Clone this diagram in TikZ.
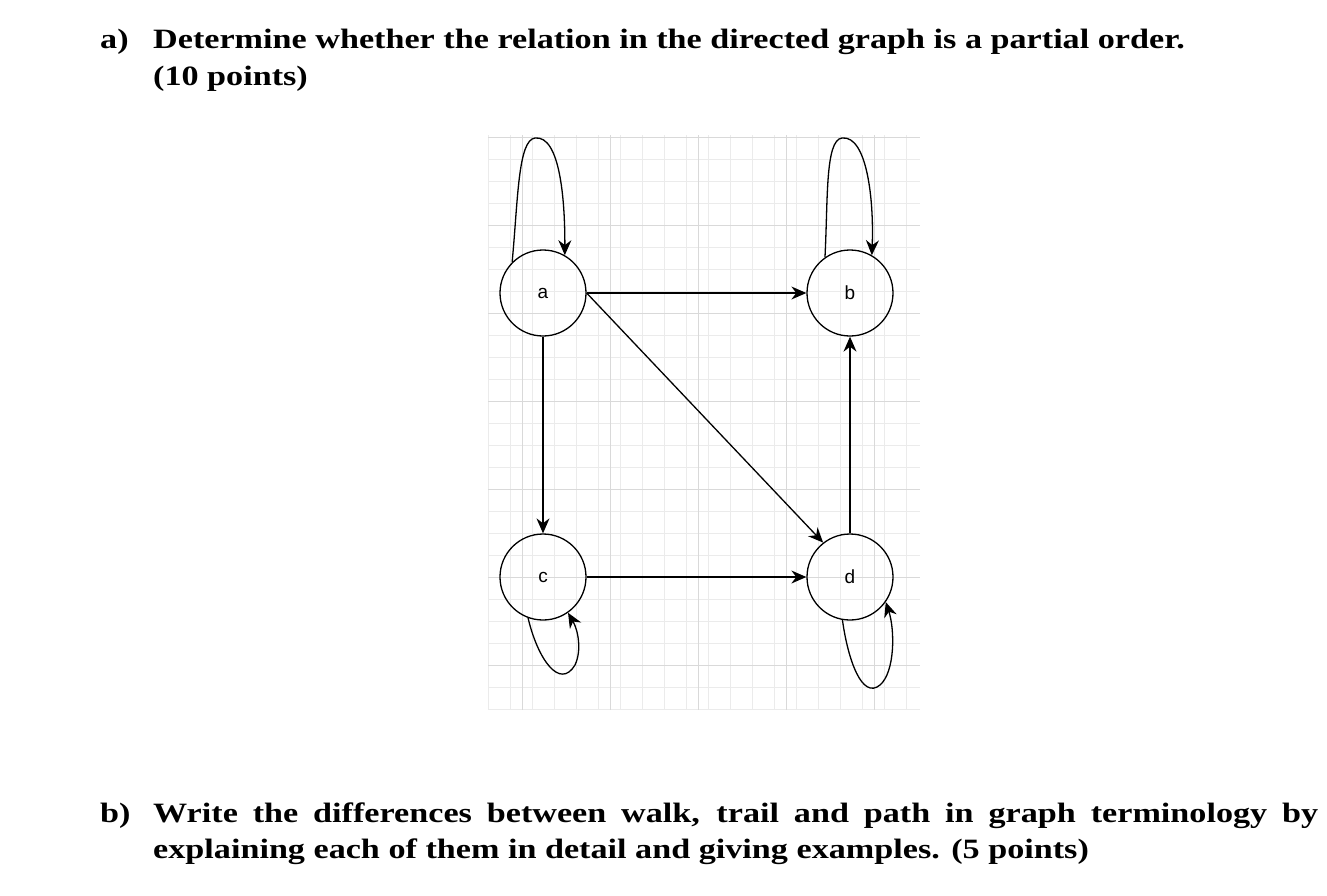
\documentclass[tikz,border=0pt]{standalone}
\usepackage{fontspec}
\setmainfont[FakeStretch=1.22]{Liberation Serif}
\newfontfamily\arialf{Liberation Sans}
\usetikzlibrary{arrows.meta}
\begin{document}
\begin{tikzpicture}[x=1pt,y=-1pt,
  vtx/.style={circle,draw,line width=1.3pt,minimum size=86pt,inner sep=0pt,font=\arialf\fontsize{19}{21}\selectfont},
  edge/.style={line width=1.3pt,-{Stealth[length=15pt,width=13pt]}},
  txt/.style={anchor=base west,inner sep=0pt,font=\bfseries\fontsize{28}{32}\selectfont}]
\useasboundingbox (0,0) rectangle (1327,895);
\fill[white] (0,0) rectangle (1327,895);
% grid
\foreach \x in {488,510,...,920} \draw[black!8,line width=0.8pt] (\x,135) -- (\x,710);
\foreach \y in {137,159,...,710} \draw[black!8,line width=0.8pt] (488,\y) -- (920,\y);
\foreach \x in {522,610,698,786,874} \draw[black!15,line width=1pt] (\x,135) -- (\x,710);
\foreach \y in {137,225,313,401,489,577,665} \draw[black!15,line width=1pt] (488,\y) -- (920,\y);
% nodes
\node[vtx] (a) at (543,293) {a};
\node[vtx] (b) at (850,293) {b};
\node[vtx] (c) at (543,577) {c};
\node[vtx] (d) at (850,577) {d};
\draw[edge] (a) -- (b);
\draw[edge] (a) -- (c);
\draw[edge] (a.east) -- (d.128);
\draw[edge] (c) -- (d);
\draw[edge] (d) -- (b);
\draw[edge] (a.135) .. controls (518,200) and (518,140) .. (535,138) .. controls (560,135) and (565,200) .. (a.60);
\draw[edge] (b.125) .. controls (828,200) and (825,140) .. (842,138) .. controls (867,135) and (874,200) .. (b.60);
\draw[edge] (c.250) .. controls (538,660) and (560,690) .. (575,665) .. controls (582,650) and (578,630) .. (c.-55);
\draw[edge] (d.260) .. controls (848,660) and (862,700) .. (880,685) .. controls (895,672) and (895,630) .. (d.-35);
% text
\node[txt] (t1) at (100,48) {a)};
\node[txt] (t2) at (153,48) {Determine whether the relation in the directed graph is a partial order.};
\node[txt] (t3) at (153,85) {(10 points)};
\node[txt] (t4) at (100,822) {b)};
\node[txt] (t5) at (153,822) {\makebox[1165pt][s]{Write the differences between walk, trail and path in graph terminology by}};
\node[txt] (t6) at (153,858) {explaining each of them in detail and giving examples. (5 points)};
\end{tikzpicture}
\end{document}
